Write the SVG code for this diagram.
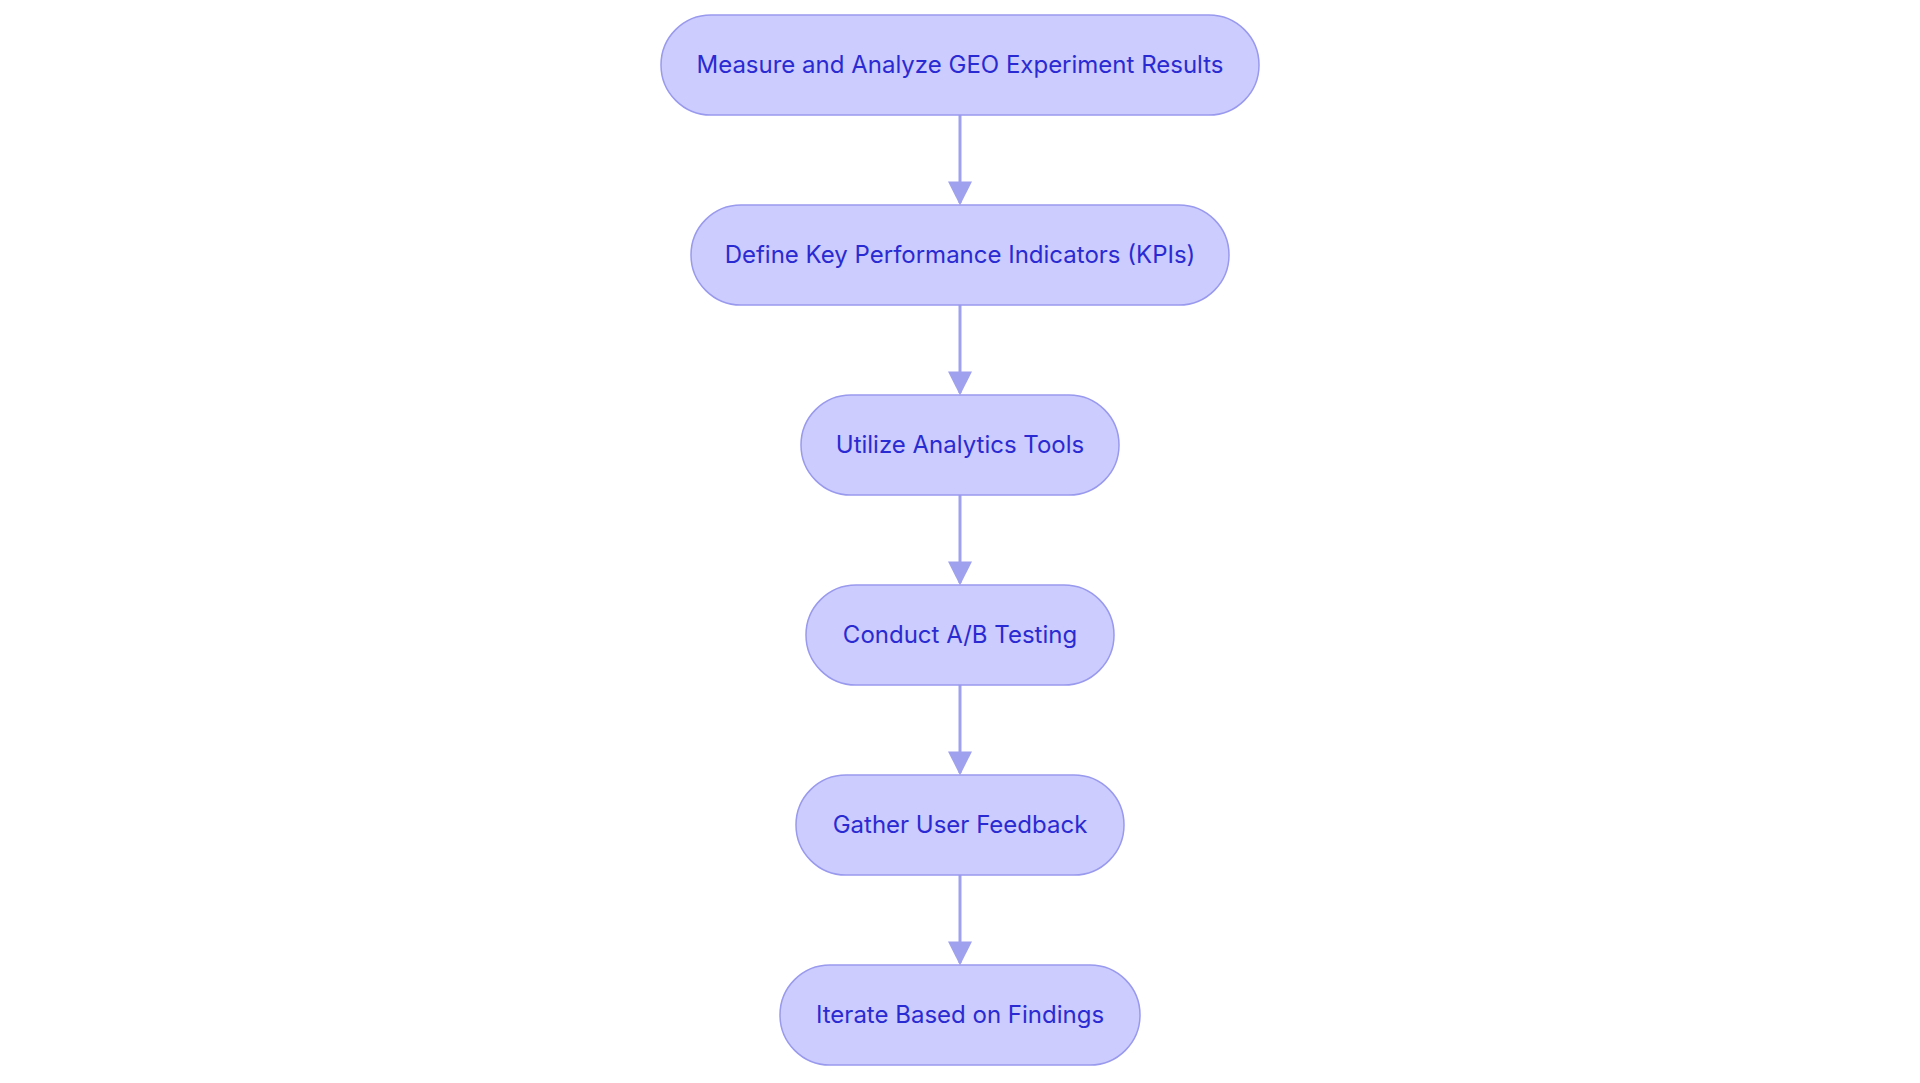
<svg xmlns="http://www.w3.org/2000/svg" width="1920" height="1083" viewBox="0 0 1920 1083">
<style>
.n rect{fill:#ccccff;stroke:#9999ee;stroke-width:1.5}
.n text{font-family:Inter,"Noto Sans",sans-serif;font-size:24px;fill:#2a2ad2;text-anchor:middle;dominant-baseline:central}
.e{stroke:#9fa0ee;stroke-width:3;fill:none}
</style>
<defs><marker id="a" viewBox="0 0 10 10" refX="10" refY="5" markerWidth="7" markerHeight="7" markerUnits="userSpaceOnUse" orient="auto"><path d="M0,0L10,5L0,10z" fill="#9fa0ee"/></marker>
<marker id="b" viewBox="0 0 10 10" refX="9" refY="5" markerWidth="8" markerHeight="8" orient="auto"><path d="M0,0L10,5L0,10z" fill="#9fa0ee"/></marker></defs>
<rect width="1920" height="1083" fill="#fff"/>
<g id="edges">
<path class="e" d="M960,115V203" marker-end="url(#b)"/>
<path class="e" d="M960,305V393" marker-end="url(#b)"/>
<path class="e" d="M960,495V583" marker-end="url(#b)"/>
<path class="e" d="M960,685V773" marker-end="url(#b)"/>
<path class="e" d="M960,875V963" marker-end="url(#b)"/>
</g>
<g id="n1" class="n"><rect x="661" y="15" width="598" height="100" rx="50"/><text x="960" y="64">Measure and Analyze GEO Experiment Results</text></g>
<g id="n2" class="n"><rect x="691" y="205" width="538" height="100" rx="50"/><text x="960" y="254">Define Key Performance Indicators (KPIs)</text></g>
<g id="n3" class="n"><rect x="801" y="395" width="318" height="100" rx="50"/><text x="960" y="444">Utilize Analytics Tools</text></g>
<g id="n4" class="n"><rect x="806" y="585" width="308" height="100" rx="50"/><text x="960" y="634">Conduct A/B Testing</text></g>
<g id="n5" class="n"><rect x="796" y="775" width="328" height="100" rx="50"/><text x="960" y="824">Gather User Feedback</text></g>
<g id="n6" class="n"><rect x="780" y="965" width="360" height="100" rx="50"/><text x="960" y="1014">Iterate Based on Findings</text></g>
</svg>
